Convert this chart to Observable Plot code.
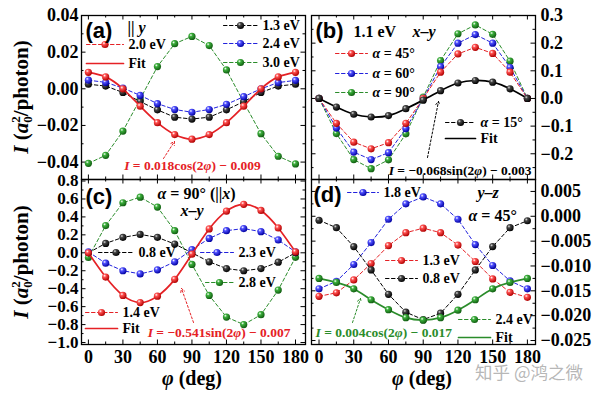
<!DOCTYPE html>
<html><head><meta charset="utf-8">
<script src="https://cdn.jsdelivr.net/npm/d3@7"></script>
<script src="https://cdn.jsdelivr.net/npm/@observablehq/plot@0.6"></script>
<style>
body{margin:0;background:#fff;}
#wrap{position:relative;width:600px;height:393px;overflow:hidden;background:#fff;font-family:"Liberation Serif",serif;}
#wrap > svg{position:absolute;left:0;top:0;}
.ytitle{position:absolute;transform:translate(-50%,-50%) rotate(-90deg);white-space:nowrap;font:bold 21px "Liberation Serif",serif;color:#000;}
.xtitle{position:absolute;transform:translate(-50%,-50%);white-space:nowrap;font:bold 20px "Liberation Serif",serif;color:#000;line-height:1;}
.ss{display:inline-block;vertical-align:-0.32em;font-size:0.62em;line-height:0.95;text-align:center;}
.ss span{display:block;}
.wm{position:absolute;white-space:nowrap;font:17.5px "Noto Sans CJK SC",sans-serif;color:rgba(170,170,170,0.85);line-height:1;}
</style></head><body>
<svg width="0" height="0" style="position:absolute">
<defs>
<radialGradient id="g-r" cx="0.35" cy="0.32" r="0.7"><stop offset="0" stop-color="#fff"/><stop offset="0.3" stop-color="#ff5050"/><stop offset="1" stop-color="#b00000"/></radialGradient>
<radialGradient id="g-b" cx="0.35" cy="0.32" r="0.7"><stop offset="0" stop-color="#fff"/><stop offset="0.3" stop-color="#5050ff"/><stop offset="1" stop-color="#0000a0"/></radialGradient>
<radialGradient id="g-g" cx="0.35" cy="0.32" r="0.7"><stop offset="0" stop-color="#fff"/><stop offset="0.3" stop-color="#3cb03c"/><stop offset="1" stop-color="#105c10"/></radialGradient>
<radialGradient id="g-k" cx="0.35" cy="0.32" r="0.7"><stop offset="0" stop-color="#ddd"/><stop offset="0.3" stop-color="#444"/><stop offset="1" stop-color="#000"/></radialGradient>
</defs></svg>
<div id="wrap"></div>
<script>
// ---------- data ----------
const phi = [0,15,30,45,60,75,90,105,120,135,150,165,180];
const xTicks = [0,30,60,90,120,150,180];
const xMinorTicks = [15,45,75,105,135,165];

// (a) || y
const a_13eV = [0.0025,0.0015,-0.002,-0.007,-0.0115,-0.0155,-0.0165,-0.0155,-0.0115,-0.007,-0.002,0.0015,0.0025];
const a_20eV = [0.009,0.0065,0.0000,-0.0095,-0.0185,-0.025,-0.0275,-0.025,-0.0185,-0.0095,0.0000,0.0065,0.009];
const a_24eV = [0.0047,0.0035,0.0004,-0.0036,-0.0081,-0.0113,-0.0128,-0.0113,-0.0085,-0.0043,0.0000,0.0034,0.0046];
const a_30eV = [-0.0407,-0.0363,-0.0231,-0.0056,0.0121,0.0246,0.0286,0.0236,0.0103,-0.0074,-0.0245,-0.0368,-0.0410];
const a_yTicks = [-0.04,-0.02,0,0.02,0.04];
const a_yMinor = [-0.03,-0.01,0.01,0.03];

// (b) 1.1 eV x-y
const b_a15 = [0,-0.031,-0.057,-0.067,-0.062,-0.037,-0.006,0.028,0.056,0.065,0.059,0.035,0];
const b_a45 = [0,-0.090,-0.158,-0.182,-0.160,-0.090,0.000,0.095,0.161,0.185,0.163,0.095,0];
const b_a60 = [0,-0.107,-0.194,-0.221,-0.196,-0.109,0.000,0.115,0.200,0.231,0.200,0.112,0];
const b_a90 = [0,-0.127,-0.221,-0.254,-0.222,-0.128,0.005,0.137,0.234,0.266,0.232,0.135,0];
const b_yTicks = [-0.2,-0.1,0,0.1,0.2,0.3];
const b_yMinor = [-0.25,-0.15,-0.05,0.05,0.15,0.25];

// (c) alpha = 90 (||x) x-y
const c_08eV = [0,0.105,0.172,0.205,0.172,0.098,0,-0.100,-0.176,-0.200,-0.176,-0.105,0];
const c_14eV = [0,-0.270,-0.475,-0.555,-0.483,-0.296,-0.015,0.266,0.464,0.540,0.472,0.277,0.010];
const c_23eV = [0.010,-0.116,-0.200,-0.235,-0.190,-0.100,0.035,0.160,0.247,0.270,0.236,0.143,0.010];
const c_28eV = [-0.052,0.303,0.558,0.620,0.510,0.247,-0.130,-0.475,-0.716,-0.800,-0.690,-0.415,-0.050];
const c_yTicks = [-1.0,-0.8,-0.6,-0.4,-0.2,0,0.2,0.4,0.6,0.8];
const c_yMinor = [-0.9,-0.7,-0.5,-0.3,-0.1,0.1,0.3,0.5,0.7];

// (d) y-z alpha = 45
const d_18eV = [-0.0146,-0.0131,-0.0097,-0.0053,-0.0006,0.0025,0.0039,0.0025,-0.0006,-0.0057,-0.0099,-0.0130,-0.0146];
const d_13eV = [-0.0161,-0.0154,-0.0128,-0.0095,-0.0059,-0.0033,-0.0024,-0.0033,-0.0058,-0.0091,-0.0126,-0.0153,-0.0163];
const d_08eV = [-0.0008,-0.0023,-0.0061,-0.0108,-0.0157,-0.0193,-0.0208,-0.0195,-0.0157,-0.0108,-0.0061,-0.0023,-0.0009];
const d_24eV = [-0.0125,-0.0133,-0.0146,-0.0168,-0.0188,-0.0204,-0.0209,-0.0204,-0.0189,-0.0168,-0.0146,-0.0133,-0.0125];
const d_yTicks = [-0.025,-0.02,-0.015,-0.01,-0.005,0,0.005];
const d_yMinor = [-0.0225,-0.0175,-0.0125,-0.0075,-0.0025,0.0025];

const COL = {r:"#e52125", b:"#2222dd", g:"#2a8c2a", k:"#000000"};

// ---------- helpers ----------
const wrap = document.getElementById("wrap");
const SERIF = '"Liberation Serif", serif';
const SANS = '"Liberation Sans", Arial, sans-serif';
const LEG = 14, FORM = 13.5;

function italicize(svg){
  svg.querySelectorAll("text").forEach(t=>{
    const s = t.textContent;
    if (!s.includes("*")) return;
    t.textContent = "";
    s.split("*").forEach((part,i)=>{
      if (!part) return;
      const ts = document.createElementNS("http://www.w3.org/2000/svg","tspan");
      ts.textContent = part;
      if (i % 2) ts.setAttribute("font-style","italic");
      t.appendChild(ts);
    });
  });
}

function makePanel(cfg){
  const {fx, fy, xd, yd} = cfg;
  const fw = fx[1]-fx[0], fh = fy[1]-fy[0];
  const sx = d3.scaleLinear(xd, fx), sy = d3.scaleLinear(yd, [fy[1], fy[0]]);
  const P = (px,py)=>({x: sx.invert(px), y: sy.invert(py)});
  const marks = [];
  const MJ = 4.5, MN = 2.5;
  // inward ticks on all four edges
  marks.push(Plot.tickX(xTicks,{x:d=>d, insetTop: fh-MJ, stroke:"#000"}));
  marks.push(Plot.tickX(xMinorTicks,{x:d=>d, insetTop: fh-MN, stroke:"#000"}));
  marks.push(Plot.tickX(xTicks,{x:d=>d, insetBottom: fh-MJ, stroke:"#000"}));
  marks.push(Plot.tickX(xMinorTicks,{x:d=>d, insetBottom: fh-MN, stroke:"#000"}));
  marks.push(Plot.tickY(cfg.yTicks,{y:d=>d, insetRight: fw-MJ, stroke:"#000"}));
  marks.push(Plot.tickY(cfg.yMinor,{y:d=>d, insetRight: fw-MN, stroke:"#000"}));
  marks.push(Plot.tickY(cfg.yTicks,{y:d=>d, insetLeft: fw-MJ, stroke:"#000"}));
  marks.push(Plot.tickY(cfg.yMinor,{y:d=>d, insetLeft: fw-MN, stroke:"#000"}));

  // series
  cfg.series.forEach(s=>{
    const data = phi.map((p,i)=>({x:p, y:s.values[i]}));
    if (s.fit) marks.push(Plot.line(data,{x:"x",y:"y",stroke:COL[s.c],strokeWidth:1.7,curve:"natural"}));
    else marks.push(Plot.line(data,{x:"x",y:"y",stroke:COL[s.c],strokeWidth:1,strokeDasharray:"3.5,2.5"}));
    marks.push(Plot.dot(data,{x:"x",y:"y",r:3.6,fill:`url(#g-${s.c})`}));
  });

  // legend entries: [x0, x1, y, color, label, type]
  (cfg.legend||[]).forEach(L=>{
    const [x0,x1,y,c,label,type] = L;
    const seg = [P(x0,y),P(x1,y)];
    if (type === "fit") marks.push(Plot.line(seg,{x:"x",y:"y",stroke:COL[c],strokeWidth:1.7}));
    else {
      marks.push(Plot.line(seg,{x:"x",y:"y",stroke:COL[c],strokeWidth:1,strokeDasharray:"3.5,2.5"}));
      marks.push(Plot.dot([P((x0+x1)/2,y)],{x:"x",y:"y",r:3.6,fill:`url(#g-${c})`}));
    }
    marks.push(Plot.text([P(x1+5,y)],{x:"x",y:"y",text:()=>label,textAnchor:"start",fontSize:LEG,fontWeight:"bold",fontFamily:SERIF,fill:"#000"}));
  });

  // free texts: [x, y, text, size, color, family, anchor]
  (cfg.texts||[]).forEach(T=>{
    const [x,y,txt,size,color,fam,anchor] = T;
    marks.push(Plot.text([P(x,y)],{x:"x",y:"y",text:()=>txt,textAnchor:anchor||"start",fontSize:size,fontWeight:"bold",fontFamily:fam||SERIF,fill:color||"#000"}));
  });

  // arrows: [x1,y1,x2,y2,color]
  (cfg.arrows||[]).forEach(A=>{
    const [x1,y1,x2,y2,c] = A;
    const a = P(x1,y1), b = P(x2,y2);
    marks.push(Plot.arrow([{x1:a.x,y1:a.y,x2:b.x,y2:b.y}],{x1:"x1",y1:"y1",x2:"x2",y2:"y2",stroke:COL[c],strokeWidth:1,strokeDasharray:"2,2",headLength:6}));
  });

  marks.push(Plot.frame({stroke:"#000",strokeWidth:1.3}));

  // tick labels
  marks.push(Plot.axisY(cfg.yTicks,{anchor:cfg.ySide,tickSize:0,tickPadding:cfg.ySide==="left"?3:5,tickFormat:cfg.yFmt,label:null,fontSize:cfg.yFont||18,fontWeight:"bold",fontFamily:SERIF}));
  if (cfg.xLabels) marks.push(Plot.axisX(xTicks,{anchor:"bottom",tickSize:0,tickPadding:6,tickFormat:d=>String(d),label:null,fontSize:18,fontWeight:"bold",fontFamily:SERIF}));

  const svg = Plot.plot({
    width:600, height:393,
    marginLeft:fx[0], marginRight:600-fx[1], marginTop:fy[0], marginBottom:393-fy[1],
    x:{domain:xd, axis:null},
    y:{domain:yd, axis:null},
    style:{background:"transparent",overflow:"visible",fontFamily:SERIF,fontSize:"18px",fontWeight:"bold",color:"#000"},
    marks
  });
  italicize(svg);
  wrap.appendChild(svg);
}

// ---------- panels ----------
makePanel({
  fx:[81,305], fy:[15,179], xd:[-6,188.7], yd:[-0.0495,0.04],
  yTicks:a_yTicks, yMinor:a_yMinor, yFmt:".2f", ySide:"left",
  series:[
    {values:a_30eV,c:"g"},{values:a_13eV,c:"k"},{values:a_24eV,c:"b"},
    {values:a_20eV,c:"r",fit:true}
  ],
  legend:[
    [86,123,44,"r","2.0 eV"],[86,123,63,"r","Fit","fit"],
    [223,257,25,"k","1.3 eV"],[223,257,43,"b","2.4 eV"],[223,257,62,"g","3.0 eV"]
  ],
  texts:[
    [85,30,"(a)",22,"#000",SANS],
    [127,27,"|| *y*",16],
    [192,165,"*I* = 0.018cos(2*φ*) − 0.009",FORM,COL.r,SERIF,"middle"]
  ],
  arrows:[[163,158,174,141,"r"]]
});

makePanel({
  fx:[311,535], fy:[15,179], xd:[-6.5,187], yd:[-0.293,0.3],
  yTicks:b_yTicks, yMinor:b_yMinor, yFmt:".1f", ySide:"right",
  series:[
    {values:b_a90,c:"g"},{values:b_a60,c:"b"},{values:b_a45,c:"r"},
    {values:b_a15,c:"k",fit:true}
  ],
  legend:[
    [335,367,53,"r","*α* = 45°"],[335,367,73,"b","*α* = 60°"],[335,367,92,"g","*α* = 90°"],
    [445,475,122,"k","*α* = 15°"],[445,475,138,"k","Fit","fit"]
  ],
  texts:[
    [315,30,"(b)",22,"#000",SANS],
    [353,31,"1.1 eV",16],
    [412,31,"*x*–*y*",16],
    [531,170,"*I* = −0.068sin(2*φ*) − 0.003",FORM,"#000",SERIF,"end"]
  ],
  arrows:[[427,157,438,101,"k"]]
});

makePanel({
  fx:[81,305], fy:[179,344], xd:[-6,188.7], yd:[-1.022,0.817],
  yTicks:c_yTicks, yMinor:c_yMinor, yFmt:".1f", ySide:"left", xLabels:true, yFont:17,
  series:[
    {values:c_28eV,c:"g"},{values:c_08eV,c:"k"},{values:c_23eV,c:"b"},
    {values:c_14eV,c:"r",fit:true}
  ],
  legend:[
    [98,133,252,"k","0.8 eV"],[200,233,252,"b","2.3 eV"],[205,233,282,"g","2.8 eV"],
    [85,117,312,"r","1.4 eV"],[85,117,328,"r","Fit","fit"]
  ],
  texts:[
    [85,196,"(c)",22,"#000",SANS],
    [157,193,"*α* = 90° (||*x*)",16],
    [180,210,"*x*–*y*",16],
    [290,332,"*I* = −0.541sin(2*φ*) − 0.007",FORM,COL.r,SERIF,"end"]
  ],
  arrows:[[193,322,181,288,"r"]]
});

makePanel({
  fx:[311,535], fy:[179,344], xd:[-6.5,187], yd:[-0.0258,0.0074],
  yTicks:d_yTicks, yMinor:d_yMinor, yFmt:".3f", ySide:"right", xLabels:true,
  series:[
    {values:d_18eV,c:"b"},{values:d_13eV,c:"r"},{values:d_08eV,c:"k"},
    {values:d_24eV,c:"g",fit:true}
  ],
  legend:[
    [347,378,192,"b","1.8 eV"],
    [385,417,260,"r","1.3 eV"],[385,417,278,"k","0.8 eV"],
    [458,490,319,"g","2.4 eV"],[458,490,337,"g","Fit","fit"]
  ],
  texts:[
    [313,194,"(d)",22,"#000",SANS],
    [477,192,"*y*–*z*",16],
    [468,215,"*α* = 45°",16],
    [315,332,"*I* = 0.004cos(2*φ*) − 0.017",FORM,COL.g]
  ],
  arrows:[[352,322,360,298,"g"]]
});

// ---------- axis titles & watermark ----------
function addHTML(cls, x, y, html){
  const d = document.createElement("div");
  d.className = cls; d.style.left = x+"px"; d.style.top = y+"px"; d.innerHTML = html;
  wrap.appendChild(d);
}
const yTitle = '<i>I</i> (<i>a</i><span class="ss"><span>2</span><span>0</span></span>/photon)';
addHTML("ytitle", 22, 97, yTitle);
addHTML("ytitle", 22, 262, yTitle);
addHTML("xtitle", 192, 378, '<i>φ</i> (deg)');
addHTML("xtitle", 422, 378, '<i>φ</i> (deg)');
addHTML("wm", 475, 363, '知乎 @鸿之微');
</script>
</body></html>
